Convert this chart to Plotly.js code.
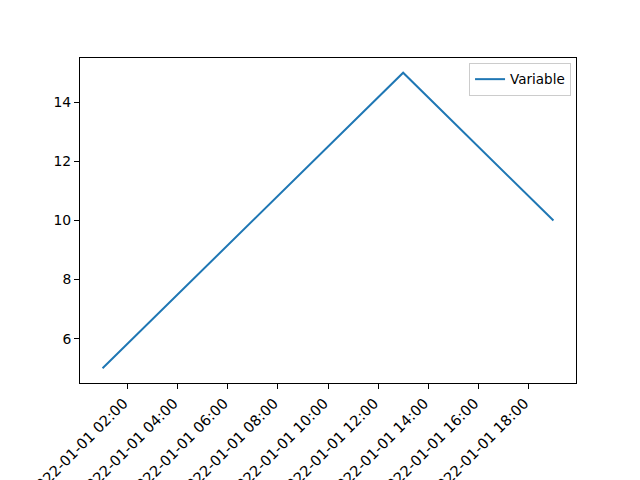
<!DOCTYPE html>
<html>
<head>
<meta charset="utf-8">
<script src="https://cdn.plot.ly/plotly-3.0.1.min.js"></script>
<style>html,body{margin:0;padding:0;background:#fff;}#chart{width:640px;height:480px;}</style>
</head>
<body>
<div id="chart"></div>
<script>
const times = ["2022-01-01 01:00", "2022-01-01 13:00", "2022-01-01 19:00"];
const values = [5, 15, 10];
const seriesName = "Variable";
const yTicks = [6, 8, 10, 12, 14];

const font = {family: "DejaVu Sans", size: 13.9, color: "#000"};
Plotly.newPlot("chart", [{
  x: times, y: values, type: "scatter", mode: "lines", name: seriesName,
  line: {color: "#1f77b4", width: 2}
}], {
  width: 640, height: 480,
  margin: {l: 80, r: 64, t: 58, b: 97},
  paper_bgcolor: "#fff", plot_bgcolor: "#fff",
  font: font,
  showlegend: true,
  xaxis: {
    type: "date",
    range: ["2022-01-01 00:06", "2022-01-01 19:54"],
    tick0: "2022-01-01 02:00", dtick: 7200000, tickmode: "linear",
    tickformat: "%Y-%m-%d %H:%M", tickangle: -45,
    showgrid: false, zeroline: false,
    showline: true, linecolor: "#000", linewidth: 1, mirror: true,
    ticks: "outside", ticklen: 5, tickwidth: 1, tickcolor: "#000",
    ticklabelshift: -4,
    tickfont: {family: "DejaVu Sans", size: 14.6, color: "#000"}
  },
  yaxis: {
    range: [4.5, 15.5], tickmode: "array", tickvals: yTicks,
    showgrid: false, zeroline: false,
    showline: true, linecolor: "#000", linewidth: 1, mirror: true,
    ticks: "outside", ticklen: 5, tickwidth: 1, tickcolor: "#000",
    tickfont: font
  },
  legend: {
    x: 0.99, y: 0.985, xanchor: "right", yanchor: "top",
    bgcolor: "rgba(255,255,255,0.8)", bordercolor: "#cccccc", borderwidth: 1,
    font: {family: "DejaVu Sans", size: 13.5, color: "#000"}
  }
}, {displayModeBar: false});
</script>
</body>
</html>
